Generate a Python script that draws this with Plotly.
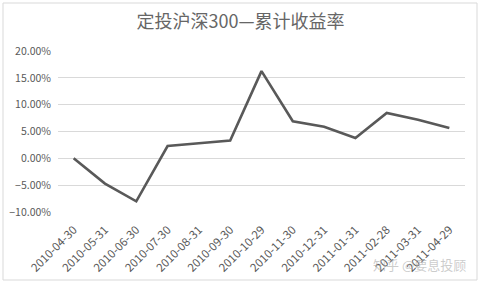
import plotly.graph_objects as go

dates = ["2010-04-30", "2010-05-31", "2010-06-30", "2010-07-30", "2010-08-31",
         "2010-09-30", "2010-10-29", "2010-11-30", "2010-12-31", "2011-01-31",
         "2011-02-28", "2011-03-31", "2011-04-29"]
returns = [0.0, -4.7, -8.0, 2.3, 2.8, 3.3, 16.25, 6.9, 5.9, 3.8, 8.45, 7.2, 5.65]
returns_frac = [v / 100 for v in returns]
title = "定投沪深300—累计收益率"
watermark = "知乎 @要息投顾"

W, H = 481, 282
ml, mr, mt, mb = 58, 16, 51, 70
pw, ph = W - ml - mr, H - mt - mb

def px_x(p):
    return (p - ml) / pw

def px_y(p):
    return (H - mb - p) / ph

fig = go.Figure()
fig.add_trace(go.Scatter(x=dates, y=returns_frac, mode="lines",
                         line=dict(color="#595959", width=2.6)))

fig.update_layout(
    width=W, height=H,
    margin=dict(l=ml, r=mr, t=mt, b=mb, autoexpand=False),
    paper_bgcolor="white", plot_bgcolor="white",
    showlegend=False,
    font=dict(family="Noto Sans CJK SC, Liberation Sans, sans-serif", color="#595959", size=10),
    title=dict(text=title, x=0.5, xanchor="center", y=1 - 22 / H, yanchor="middle",
               font=dict(size=18, color="#666666")),
    xaxis=dict(type="category", range=[-0.5, len(dates) - 0.5], tickangle=-45,
               showgrid=False, showline=False, ticks="", ticklabelstandoff=8,
               automargin=False, tickfont=dict(size=11.5, color="#595959")),
    yaxis=dict(range=[-0.1, 0.2], dtick=0.05, tickformat=".2%", showgrid=True,
               gridcolor="#d9d9d9", gridwidth=1, zeroline=False, showline=False,
               automargin=False,
               tickfont=dict(size=10.5, color="#595959"), ticks="", ticklabelstandoff=6),
    shapes=[dict(type="rect", xref="paper", yref="paper",
                 x0=px_x(3), x1=px_x(477), y0=px_y(280), y1=px_y(3),
                 line=dict(color="#d9d9d9", width=1), layer="below")],
    annotations=[dict(text=watermark, xref="paper", yref="paper",
                      x=px_x(468), y=px_y(264), xanchor="right", yanchor="middle",
                      showarrow=False, font=dict(size=13, color="rgba(170,170,170,0.6)"))],
)

fig.write_html("out.html")
